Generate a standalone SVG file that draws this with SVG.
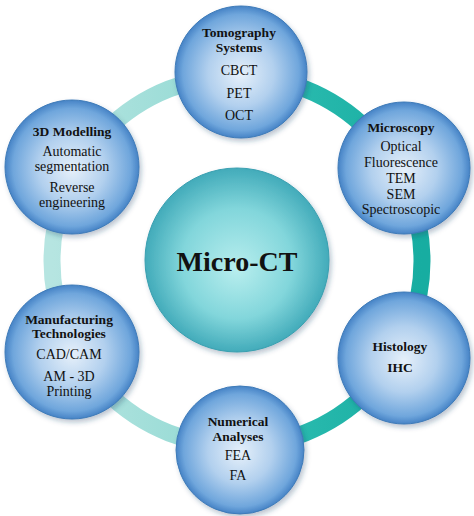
<svg xmlns="http://www.w3.org/2000/svg" width="474" height="516" viewBox="0 0 474 516">
<defs>
<linearGradient id="ringGrad" x1="0" y1="0" x2="1" y2="0">
<stop offset="0" stop-color="#b6e5e1"/>
<stop offset="0.45" stop-color="#94dad4"/>
<stop offset="0.6" stop-color="#2cbcb0"/>
<stop offset="1" stop-color="#17ada1"/>
</linearGradient>
<radialGradient id="blue" cx="0.5" cy="0.5" r="0.5" fx="0.5" fy="0.52">
<stop offset="0" stop-color="#e6f0fa"/>
<stop offset="0.5" stop-color="#b2d0ee"/>
<stop offset="0.88" stop-color="#6fa6dc"/>
<stop offset="1" stop-color="#4683c6"/>
</radialGradient>
<radialGradient id="teal" cx="0.5" cy="0.5" r="0.5" fx="0.5" fy="0.55">
<stop offset="0" stop-color="#b8eeee"/>
<stop offset="0.6" stop-color="#82d6db"/>
<stop offset="1" stop-color="#42abba"/>
</radialGradient>
<filter id="shadow" x="-20%" y="-20%" width="140%" height="140%">
<feDropShadow dx="2" dy="3" stdDeviation="2.5" flood-color="#1c3f66" flood-opacity="0.3"/>
</filter>
</defs>
<style>
.node circle.b{fill:url(#blue);stroke:#3f7bb8;stroke-width:1;filter:url(#shadow)}
.node circle.c{fill:url(#teal);stroke:#3a9fb0;stroke-width:1;filter:url(#shadow)}
text{font-family:"Liberation Serif","DejaVu Serif",serif;fill:#111;text-anchor:middle}
.h{font-weight:bold;font-size:13.5px}
.t{font-size:14px}
.big{font-weight:bold;font-size:28px}
</style>
<g id="connectors">
<circle cx="237" cy="261" r="185" fill="none" stroke="url(#ringGrad)" stroke-width="17"/>
</g>
<g id="micro-ct" class="node">
<circle class="c" cx="237" cy="260" r="92"/>
<text class="big" x="237" y="271">Micro-CT</text>
</g>
<g id="tomography" class="node">
<circle class="b" cx="241" cy="72" r="66"/>
<text class="h" x="239" y="37">Tomography</text>
<text class="h" x="239" y="52">Systems</text>
<text class="t" x="239" y="75">CBCT</text>
<text class="t" x="239" y="98">PET</text>
<text class="t" x="239" y="120">OCT</text>
</g>
<g id="microscopy" class="node">
<circle class="b" cx="404" cy="168" r="66"/>
<text class="h" x="401" y="132">Microscopy</text>
<text class="t" x="401" y="151">Optical</text>
<text class="t" x="401" y="167">Fluorescence</text>
<text class="t" x="401" y="183">TEM</text>
<text class="t" x="401" y="199">SEM</text>
<text class="t" x="401" y="214">Spectroscopic</text>
</g>
<g id="modelling" class="node">
<circle class="b" cx="72" cy="167" r="67"/>
<text class="h" x="72" y="136">3D Modelling</text>
<text class="t" x="72" y="156">Automatic</text>
<text class="t" x="72" y="171">segmentation</text>
<text class="t" x="72" y="192">Reverse</text>
<text class="t" x="72" y="207">engineering</text>
</g>
<g id="manufacturing" class="node">
<circle class="b" cx="72" cy="352" r="67"/>
<text class="h" x="69" y="324">Manufacturing</text>
<text class="h" x="69" y="338">Technologies</text>
<text class="t" x="69" y="359">CAD/CAM</text>
<text class="t" x="69" y="381">AM - 3D</text>
<text class="t" x="69" y="396">Printing</text>
</g>
<g id="histology" class="node">
<circle class="b" cx="404" cy="358" r="66"/>
<text class="h" x="400" y="351">Histology</text>
<text class="h" x="400" y="372">IHC</text>
</g>
<g id="numerical" class="node">
<circle class="b" cx="240" cy="450" r="64"/>
<text class="h" x="238" y="426">Numerical</text>
<text class="h" x="238" y="441">Analyses</text>
<text class="t" x="238" y="460">FEA</text>
<text class="t" x="238" y="480">FA</text>
</g>
</svg>
